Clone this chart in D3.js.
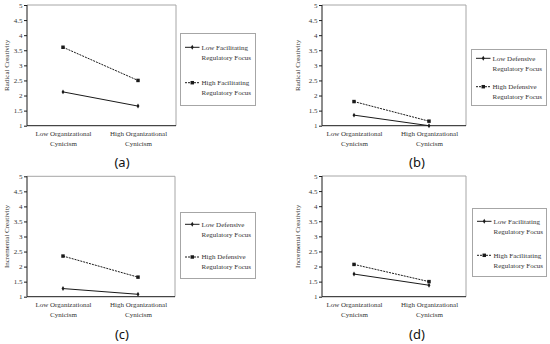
<!DOCTYPE html>
<html>
<head>
<meta charset="utf-8">
<script src="https://cdn.jsdelivr.net/npm/d3@7"></script>
<style>
  html, body { margin: 0; padding: 0; background: #fff; }
  svg { display: block; }
</style>
</head>
<body>
<svg id="chart" width="550" height="344"></svg>
<script>
// ---------------- DATA ----------------
const panelLabels = ["(a)", "(b)", "(c)", "(d)"];
const categories = ["Low Organizational Cynicism", "High Organizational Cynicism"];
const categoryLines = [["Low Organizational", "Cynicism"], ["High Organizational", "Cynicism"]];
const yTitles = ["Radical Creativity", "Radical Creativity", "Incremental Creativity", "Incremental Creativity"];
const yTicks = [1, 1.5, 2, 2.5, 3, 3.5, 4, 4.5, 5];
const lowSeriesNames = ["Low Facilitating Regulatory Focus", "Low Defensive Regulatory Focus", "Low Defensive Regulatory Focus", "Low Facilitating Regulatory Focus"];
const highSeriesNames = ["High Facilitating Regulatory Focus", "High Defensive Regulatory Focus", "High Defensive Regulatory Focus", "High Facilitating Regulatory Focus"];
const lowValues = [[2.12, 1.65], [1.35, 1.0], [1.27, 1.08], [1.75, 1.38]];
const highValues = [[3.6, 2.5], [1.8, 1.15], [2.35, 1.65], [2.07, 1.5]];

// ---------------- LAYOUT ----------------
const layouts = [
  { left: 27, right: 176, top: 5, bottom: 125.7, ptLo: 63, ptHi: 138, titleX: 8.5,
    legend: { x: 180, y: 33, w: 75, h: 72, rows: [47.3, 82.7] }, labelX: 122, labelY: 167 },
  { left: 322, right: 466, top: 5, bottom: 125.7, ptLo: 354, ptHi: 429, titleX: 299.5,
    legend: { x: 471, y: 49, w: 75, h: 56, rows: [58.3, 86.7] }, labelX: 417, labelY: 167 },
  { left: 27, right: 175, top: 176.3, bottom: 296.7, ptLo: 63, ptHi: 138, titleX: 8.5,
    legend: { x: 180, y: 212, w: 75, h: 66, rows: [224.3, 257] }, labelX: 122, labelY: 339 },
  { left: 322, right: 466, top: 176, bottom: 296.7, ptLo: 354, ptHi: 429, titleX: 299.5,
    legend: { x: 472, y: 208, w: 74, h: 68, rows: [221.3, 255.3] }, labelX: 417, labelY: 339 }
];

const serif = "'Liberation Serif', 'Times New Roman', serif";
const svg = d3.select("#chart");
const gridGrey = "#a6a6a6";
const ink = "#1a1a1a";
const textInk = "#333";

layouts.forEach((L, i) => {
  const g = svg.append("g");
  const y = d3.scaleLinear().domain([1, 5]).range([L.bottom, L.top]);
  const x = d3.scalePoint().domain(categories).range([L.ptLo, L.ptHi]);

  // plot frame (top & right grey)
  g.append("path")
    .attr("d", `M${L.left},${L.top}H${L.right}V${L.bottom}`)
    .attr("fill", "none").attr("stroke", gridGrey).attr("stroke-width", 1);

  // y axis
  const yAxis = d3.axisLeft(y).tickValues(yTicks).tickSize(3).tickPadding(1.5)
    .tickFormat(d => d3.format("")(d));
  const ya = g.append("g").attr("transform", `translate(${L.left},0)`).call(yAxis);
  ya.select(".domain").attr("stroke", ink).attr("d", `M0,${L.top}V${L.bottom}`);
  ya.selectAll(".tick line").attr("stroke", ink);
  ya.selectAll(".tick text").attr("font-family", serif).attr("font-size", 7).attr("fill", textInk);

  // x axis
  const xAxis = d3.axisBottom(x).tickSize(0).tickFormat("");
  const xa = g.append("g").attr("transform", `translate(0,${L.bottom})`).call(xAxis);
  xa.select(".domain").attr("stroke", ink).attr("d", `M${L.left},0H${L.right}`);
  xa.selectAll(".tick").each(function (d, k) {
    const t = d3.select(this).append("text")
      .attr("font-family", serif).attr("font-size", 7).attr("fill", textInk)
      .attr("text-anchor", "middle");
    categoryLines[k].forEach((line, j) => {
      t.append("tspan").attr("x", 0).attr("y", 10.5 + j * 10).text(line);
    });
  });

  // y title
  g.append("text")
    .attr("transform", `translate(${L.titleX},${(L.top + L.bottom) / 2}) rotate(-90)`)
    .attr("text-anchor", "middle")
    .attr("font-family", serif).attr("font-size", 7).attr("fill", textInk)
    .text(yTitles[i]);

  // series
  const line = d3.line().x((d, k) => x(categories[k])).y(d => y(d));
  const series = [
    { vals: lowValues[i], dash: null, marker: "diamond", name: lowSeriesNames[i] },
    { vals: highValues[i], dash: "2,1", marker: "square", name: highSeriesNames[i] }
  ];
  series.forEach(s => {
    g.append("path").datum(s.vals).attr("d", line)
      .attr("fill", "none").attr("stroke", ink).attr("stroke-width", 1)
      .attr("stroke-dasharray", s.dash);
    g.selectAll(null).data(s.vals).enter().append("path")
      .attr("transform", (d, k) => `translate(${x(categories[k])},${y(d)})`)
      .attr("d", d3.symbol().type(s.marker === "square" ? d3.symbolSquare : d3.symbolDiamond)
        .size(s.marker === "square" ? 12 : 7)())
      .attr("fill", ink);
  });

  // legend
  const lg = svg.append("g");
  lg.append("rect").attr("x", L.legend.x + 0.5).attr("y", L.legend.y + 0.5)
    .attr("width", L.legend.w).attr("height", L.legend.h)
    .attr("fill", "#fff").attr("stroke", gridGrey).attr("stroke-width", 1);
  series.forEach((s, k) => {
    const ry = L.legend.rows[k];
    const lx0 = L.legend.x + 5, lx1 = L.legend.x + 19.5;
    lg.append("line").attr("x1", lx0).attr("x2", lx1).attr("y1", ry).attr("y2", ry)
      .attr("stroke", ink).attr("stroke-width", 1).attr("stroke-dasharray", s.dash);
    lg.append("path")
      .attr("transform", `translate(${(lx0 + lx1) / 2},${ry})`)
      .attr("d", d3.symbol().type(s.marker === "square" ? d3.symbolSquare : d3.symbolDiamond)
        .size(s.marker === "square" ? 12 : 7)())
      .attr("fill", ink);
    const words = s.name.split(" ");
    const first = words.slice(0, 2).join(" ");
    const second = words.slice(2).join(" ");
    const t = lg.append("text").attr("font-family", serif).attr("font-size", 7).attr("fill", textInk);
    t.append("tspan").attr("x", L.legend.x + 21.5).attr("y", ry + 2.3).text(first);
    t.append("tspan").attr("x", L.legend.x + 21.5).attr("y", ry + 12.3).text(second);
  });

  // panel label
  svg.append("text").attr("x", L.labelX).attr("y", L.labelY)
    .attr("text-anchor", "middle")
    .attr("font-family", "'Noto Sans', 'DejaVu Sans', sans-serif").attr("font-size", 13)
    .attr("fill", "#111")
    .text(panelLabels[i]);
});
</script>
</body>
</html>
